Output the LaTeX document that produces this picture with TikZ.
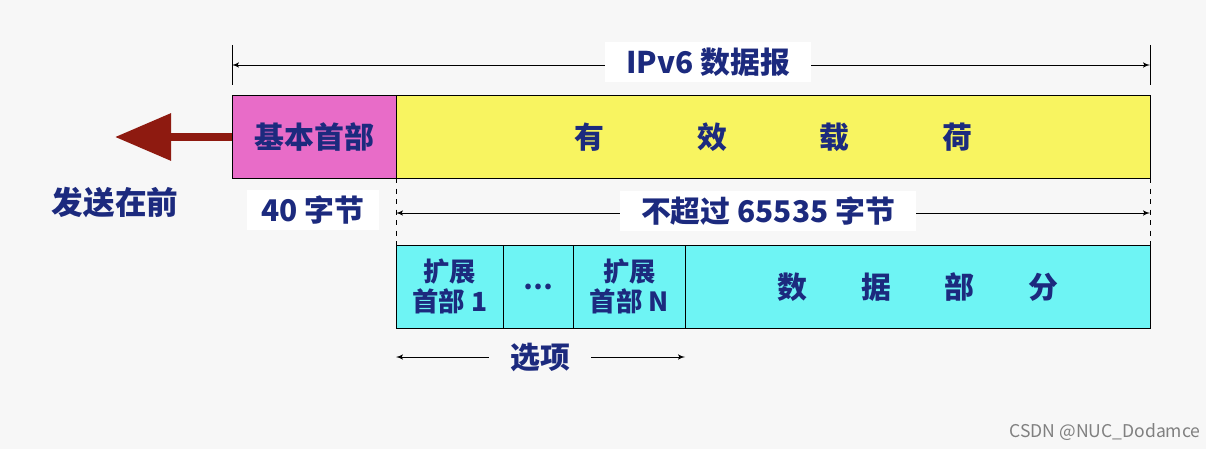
\documentclass[tikz,border=0pt]{standalone}
\usepackage{fontspec}
\setmainfont{Noto Sans CJK SC}
\usetikzlibrary{positioning,arrows,arrows.meta}
\definecolor{txtblue}{HTML}{1C2A7E}
\definecolor{hdrpink}{HTML}{E86CC8}
\definecolor{loadyel}{HTML}{F8F460}
\definecolor{extcyan}{HTML}{6EF4F4}
\definecolor{sendred}{HTML}{8E1A10}
\tikzset{
  big/.style={font=\fontsize{17}{20}\selectfont\bfseries, text=txtblue},
  small/.style={font=\fontsize{15}{17}\selectfont\bfseries, text=txtblue, align=center},
  dimline/.style={black, thin, <->, >=latex'},
  tick/.style={black, thin},
  tag/.style={big, fill=white, inner xsep=12pt, inner ysep=3pt}
}
\begin{document}
\begin{tikzpicture}[x=0.02cm,y=-0.02cm]
	% background
	\fill[gray!6] (0,0) rectangle (1206,449);
	\useasboundingbox (0,0) rectangle (1206,449);

	% top row
	\node [draw=black, fill=hdrpink, minimum width=164*0.02cm, minimum height=83*0.02cm, anchor=north west, inner sep=0pt, big] (hdr) at (232,95) {基本首部};
	\node [draw=black, fill=loadyel, minimum width=754*0.02cm, minimum height=83*0.02cm, anchor=north west, inner sep=0pt, big] (load) at (396,95) {有\hspace{3.1em}效\hspace{3.1em}载\hspace{3.1em}荷};

	% datagram width
	\draw[tick] (232,45) -- (232,85);
	\draw[tick] (1150,45) -- (1150,85);
	\coordinate (dl) at (232,65);
	\coordinate (dr) at (1150,65);
	\draw[dimline] (dl) -- (dr);
	\node [tag] (dgram) at (708,62) {IPv6 数据报};

	% sending direction
	\coordinate (sa) at (232,137);
	\coordinate (sb) at (115,137);
	\draw[sendred, line width=4.5pt, -{Triangle[length=32pt,width=26pt]}] (sa) -- (sb);
	\node [big, font=\fontsize{18}{21}\selectfont\bfseries] (send) at (115,203) {发送在前};
	\node [tag, inner xsep=8pt] (forty) at (313,210) {40 字节};

	% payload width
	\draw[tick, dashed] (396,178) -- (396,245);
	\draw[tick, dashed] (1150,178) -- (1150,245);
	\coordinate (pl) at (396,213);
	\coordinate (pr) at (1150,213);
	\draw[dimline] (pl) -- (pr);
	\node [tag] (limit) at (768,211) {不超过 65535 字节};

	% extension headers
	\begin{scope}[every node/.append style={draw=black, fill=extcyan, minimum height=83*0.02cm, anchor=north west, inner sep=0pt}]
		\node [small, minimum width=107*0.02cm] (ext1) at (396,245) {扩展\\首部 1};
		\node [small, minimum width=70*0.02cm] (dots) at (503,245) {…};
		\node [small, minimum width=112*0.02cm] (extn) at (573,245) {扩展\\首部 N};
		\node [big, minimum width=465*0.02cm] (data) at (685,245) {数\hspace{1.8em}据\hspace{1.8em}部\hspace{1.8em}分};
	\end{scope}

	% options width
	\coordinate (ol) at (396,357);
	\coordinate (or) at (685,357);
	\draw[dimline] (ol) -- (or);
	\node [tag, fill=gray!6] (opts) at (540,357) {选项};

	\node [font=\fontsize{10}{12}\selectfont, text=gray] (mark) at (1105,432) {CSDN @NUC\_Dodamce};
\end{tikzpicture}
\end{document}
